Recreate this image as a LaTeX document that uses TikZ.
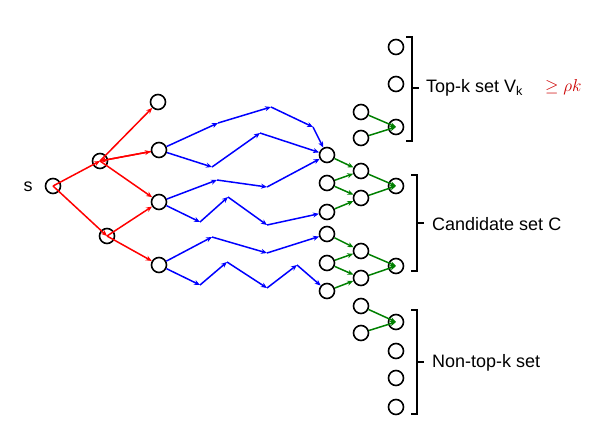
\documentclass[tikz,border=0pt]{standalone}
\usepackage{fontspec}
\setmainfont{Liberation Sans}
\usetikzlibrary{arrows.meta}
\begin{document}
\begin{tikzpicture}[x=1pt,y=-1pt,
  v/.style={circle,draw=black,line width=1.6pt,minimum size=15pt,inner sep=0pt},
  r/.style={red,line width=1.5pt,-{Stealth[length=6pt,width=5pt]}},
  b/.style={blue,line width=1.5pt,-{Stealth[length=6pt,width=5pt]}},
  g/.style={green!50!black,line width=1.5pt,-{Stealth[length=6pt,width=5pt]}},
  br/.style={black,line width=1.6pt},
  lab/.style={font=\fontsize{18}{20}\selectfont,anchor=west,inner sep=0pt}]
\useasboundingbox (0,0) rectangle (600,421);
\node[font=\fontsize{18}{20}\selectfont] (sl) at (28,187) {s};
\node[v] (s) at (53,186) {};
\node[v] (A) at (100,161) {};
\node[v] (B) at (107,236) {};
\node[v] (n1) at (158,102) {};
\node[v] (n2) at (159,150) {};
\node[v] (n3) at (159,202) {};
\node[v] (n4) at (159,265) {};
\foreach \n/\y in {c1/155,c2/183,c3/212,c4/234,c5/263,c6/291} \node[v] (\n) at (327,\y) {};
\foreach \n/\y in {d1/171,d2/198,d3/251,d4/278,t1/112,t2/138,b1/306,b2/333} \node[v] (\n) at (361,\y) {};
\foreach \n/\y in {e1/47,e2/84,e3/127,e4/186,e5/266,e6/322,e7/351,e8/378,e9/407} \node[v] (\n) at (396,\y) {};
% red
\draw[r] (s.center) -- (A.center);
\draw[r] (s.center) -- (B.center);
\draw[r] (A.center) -- (n1);
\draw[r] (A.center) -- (n2);
\draw[r] (n2) -- (A.center);
\draw[r] (A.center) -- (n3);
\draw[r] (B.center) -- (n3);
\draw[r] (B.center) -- (n4);
% blue
\coordinate (p1) at (218,123); \coordinate (p2) at (271,107); \coordinate (p3) at (313,127);
\coordinate (q1) at (212,167); \coordinate (q2) at (260,133);
\coordinate (u1) at (217,180); \coordinate (u2) at (267,187);
\coordinate (w1) at (200,222); \coordinate (w2) at (228,197); \coordinate (w3) at (267,225);
\coordinate (x1) at (212,237); \coordinate (x2) at (267,253);
\coordinate (y1) at (200,285); \coordinate (y2) at (227,262); \coordinate (y3) at (267,288); \coordinate (y4) at (297,265);
\draw[b] (n2) -- (p1); \draw[b] (p1) -- (p2); \draw[b] (p2) -- (p3); \draw[b] (p3) -- (c1);
\draw[b] (n2) -- (q1); \draw[b] (q1) -- (q2); \draw[b] (q2) -- (c1);
\draw[b] (n3) -- (u1); \draw[b] (u1) -- (u2); \draw[b] (u2) -- (c1);
\draw[b] (n3) -- (w1); \draw[b] (w1) -- (w2); \draw[b] (w2) -- (w3); \draw[b] (w3) -- (c3);
\draw[b] (n4) -- (x1); \draw[b] (x1) -- (x2); \draw[b] (x2) -- (c4);
\draw[b] (n4) -- (y1); \draw[b] (y1) -- (y2); \draw[b] (y2) -- (y3); \draw[b] (y3) -- (y4); \draw[b] (y4) -- (c6);
% green
\draw[g] (t1) -- (e3.center); \draw[g] (t2) -- (e3.center);
\draw[g] (c1) -- (d1); \draw[g] (c2) -- (d1); \draw[g] (c2) -- (d2); \draw[g] (c3) -- (d2);
\draw[g] (d1) -- (e4.center); \draw[g] (d2) -- (e4.center);
\draw[g] (c4) -- (d3); \draw[g] (c5) -- (d3); \draw[g] (c5) -- (d4); \draw[g] (c6) -- (d4);
\draw[g] (d3) -- (e5.center); \draw[g] (d4) -- (e5.center);
\draw[g] (b1) -- (e6.center); \draw[g] (b2) -- (e6.center);
% brackets
\draw[br] (406,37) -- (412,37) -- (412,141) -- (406,141); \draw[br] (412,88) -- (419,88);
\draw[br] (411,175) -- (417,175) -- (417,271) -- (411,271); \draw[br] (417,223) -- (424,223);
\draw[br] (411,310) -- (417,310) -- (417,414) -- (411,414); \draw[br] (417,362) -- (424,362);
\node[lab] (L1) at (426,88) {Top-k set V\textsubscript{k}};
\node[lab,text=red!80!black] (L1b) at (545,87) {$\geq \rho k$};
\node[lab] (L2) at (432,224) {Candidate set C};
\node[lab] (L3) at (432,363) {Non-top-k set};
\end{tikzpicture}
\end{document}
